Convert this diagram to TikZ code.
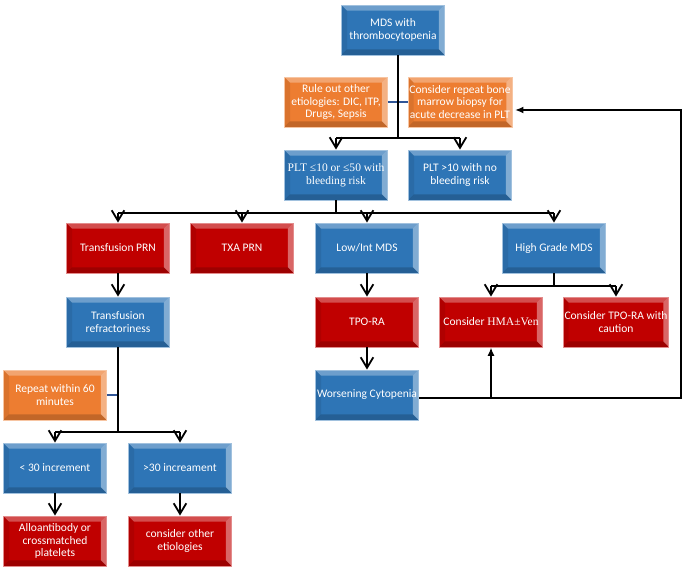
\documentclass[tikz,border=0pt]{standalone}
\usepackage{fontspec}
\setmainfont{Carlito}
\newfontfamily\serifx{Liberation Serif}
\usepackage{xcolor}
\usetikzlibrary{arrows.meta,positioning,calc}
\definecolor{boxblue}{RGB}{46,117,182}
\definecolor{boxred}{RGB}{192,0,0}
\definecolor{boxorange}{RGB}{237,125,49}
\definecolor{linkblue}{RGB}{47,85,151}

\begin{document}
\begin{tikzpicture}[x=0.025cm, y=-0.025cm,
    box/.style={rectangle, minimum width=2.575cm, minimum height=1.25cm, inner sep=1pt,
        align=center, text=white, font=\fontsize{8.2}{9}\selectfont, line width=0.6pt,
        path picture={
            \fill[white, opacity=.3] (path picture bounding box.north west) -- (path picture bounding box.north east)
                -- ([shift={(-4pt,-4pt)}]path picture bounding box.north east) -- ([shift={(4pt,-4pt)}]path picture bounding box.north west) -- cycle;
            \fill[white, opacity=.4] (path picture bounding box.north east) -- (path picture bounding box.south east)
                -- ([shift={(-4pt,4pt)}]path picture bounding box.south east) -- ([shift={(-4pt,-4pt)}]path picture bounding box.north east) -- cycle;
            \fill[black, opacity=.18] (path picture bounding box.south west) -- (path picture bounding box.south east)
                -- ([shift={(-4pt,4pt)}]path picture bounding box.south east) -- ([shift={(4pt,4pt)}]path picture bounding box.south west) -- cycle;
            \fill[black, opacity=.08] (path picture bounding box.north west) -- (path picture bounding box.south west)
                -- ([shift={(4pt,4pt)}]path picture bounding box.south west) -- ([shift={(4pt,-4pt)}]path picture bounding box.north west) -- cycle;
        }},
    bluebox/.style={box, fill=boxblue, draw=boxblue!45!white},
    redbox/.style={box, fill=boxred, draw=boxred!45!white},
    orangebox/.style={box, fill=boxorange, draw=boxorange!45!white},
    line/.style={draw, line width=1.3pt},
    link/.style={draw=linkblue, line width=1.3pt},
    vee/.style={-{Straight Barb[length=7.5pt, width=9pt]}, line width=1.3pt},
    tri/.style={-{Latex[length=6pt, width=5pt]}, line width=1.3pt}
]
    \useasboundingbox (0,0) rectangle (685,571);

    % Top
    \node[bluebox] (mds) at (393,30) {MDS with\\thrombocytopenia};
    \node[orangebox] (ruleout) at (336,102) {Rule out other\\etiologies: DIC, ITP,\\Drugs, Sepsis};
    \node[orangebox] (rebiopsy) at (460,102) {Consider repeat bone\\marrow biopsy for\\acute decrease in PLT};
    \node[bluebox] (pltlow) at (336,175) {\serifx PLT ≤10 or ≤50 with\\\serifx bleeding risk};
    \node[bluebox] (plthigh) at (460,175) {PLT >10 with no\\bleeding risk};

    % Second row
    \node[redbox] (trprn) at (118,248) {Transfusion PRN};
    \node[redbox] (txa) at (242,248) {TXA PRN};
    \node[bluebox] (lowint) at (367,248) {Low/Int MDS};
    \node[bluebox] (highgr) at (554,248) {High Grade MDS};

    \node[bluebox] (refract) at (118,322) {Transfusion\\refractoriness};
    \node[redbox] (tpora) at (367,322) {TPO-RA};
    \node[redbox] (hma) at (491,322) {Consider {\serifx HMA±Ven}};
    \node[redbox] (tpocaut) at (616,322) {Consider TPO-RA with\\caution};
    \node[bluebox] (worse) at (367,395) {Worsening Cytopenia};

    % Refractory branch
    \node[orangebox] (rpt60) at (55,395) {Repeat within 60\\minutes};
    \node[bluebox] (lt30) at (55,468) {< 30 increment};
    \node[bluebox] (gt30) at (180,468) {>30 increament};
    \node[redbox] (allo) at (55,541) {Alloantibody or\\crossmatched\\platelets};
    \node[redbox] (otheretio) at (180,541) {consider other\\etiologies};

    \coordinate (bus1) at (398,138);
    \coordinate (bus2) at (336,213);
    \coordinate (bus3) at (554,286);
    \coordinate (bus4) at (118,432);
    \coordinate (loopR) at (681,398);
    \coordinate (loopT) at (515,110);

    \draw[link] (ruleout.east) -- (rebiopsy.west);
    \draw[line] (mds.south -| bus1) -- (bus1);
    \draw[line] (ruleout.north |- bus1) -- (rebiopsy.north |- bus1);
    \foreach \n in {pltlow, plthigh} {
        \draw[vee] (\n.north |- bus1) -- (\n.north);
    }

    \draw[line] (pltlow.south) -- (bus2);
    \draw[line] (trprn.north |- bus2) -- (highgr.north |- bus2);
    \foreach \n in {trprn, txa, lowint, highgr} {
        \draw[vee] (\n.north |- bus2) -- (\n.north);
    }

    \draw[vee] (trprn.south) -- (refract.north);
    \draw[vee] (lowint.south) -- (tpora.north);
    \draw[vee] (tpora.south) -- (worse.north);

    \draw[line] (highgr.south) -- (bus3);
    \draw[line] (hma.north |- bus3) -- (tpocaut.north |- bus3);
    \foreach \n in {hma, tpocaut} {
        \draw[vee] (\n.north |- bus3) -- (\n.north);
    }

    \draw[tri] (worse.east |- loopR) -- (loopR) |- (loopT);
    \draw[tri] (hma.south |- loopR) -- (hma.south);

    \draw[link] (rpt60.east) -- (rpt60.east -| refract.south);
    \draw[line] (refract.south) -- (bus4);
    \draw[line] (lt30.north |- bus4) -- (gt30.north |- bus4);
    \foreach \n in {lt30, gt30} {
        \draw[vee] (\n.north |- bus4) -- (\n.north);
    }
    \draw[vee] (lt30.south) -- (allo.north);
    \draw[vee] (gt30.south) -- (otheretio.north);
\end{tikzpicture}
\end{document}
